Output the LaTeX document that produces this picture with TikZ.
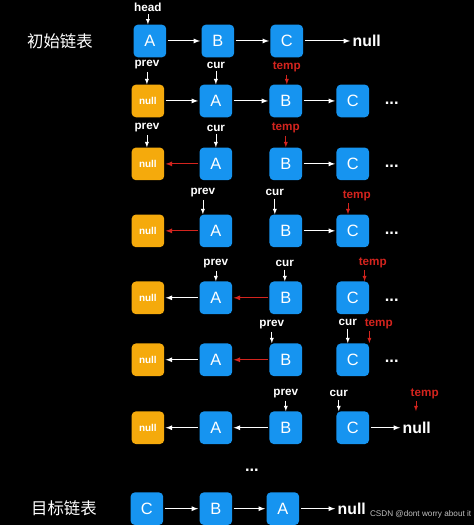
\documentclass[tikz,border=0pt]{standalone}
\usepackage{fontspec}
\setmainfont{Liberation Sans}
\newfontfamily\cjkfont{Noto Sans CJK SC}
\usepackage{tikz}
\usetikzlibrary{arrows}
\definecolor{boxblue}{RGB}{22,148,240}
\definecolor{boxorange}{RGB}{245,170,12}
\definecolor{ptrred}{RGB}{212,36,30}

\begin{document}
\begin{tikzpicture}[x=0.03cm, y=-0.03cm, >=latex,
elem/.style={rectangle,fill=boxblue,rounded corners=.7ex,minimum size=0.98cm,inner sep=0pt,text=white,font=\fontsize{14}{14}\selectfont},
nullelem/.style={elem,fill=boxorange,font=\bfseries\fontsize{8.5}{8.5}\selectfont},
endtxt/.style={text=white,inner sep=1pt,font=\bfseries\fontsize{13.5}{13.5}\selectfont},
title/.style={text=white,font=\cjkfont\fontsize{14}{14}\selectfont},
ptr/.style={text=white,inner sep=1pt,font=\bfseries\fontsize{10}{10}\selectfont},
tmp/.style={ptr,text=ptrred},
dots/.style={text=white,font=\bfseries\fontsize{14}{14}\selectfont},
link/.style={->,white,line width=0.9pt,shorten >=1pt,shorten <=1pt},
rlink/.style={link,ptrred},
plink/.style={->,white,line width=0.6pt,shorten <=1pt},
tlink/.style={plink,ptrred},
]
\fill[black] (0,0) rectangle (474,525);

%% initial list
\node[title] (init) at (60,41) {初始链表};
\node[elem] (a1) at (150,41) {A};
\node[elem] (b1) at (218,41) {B};
\node[elem] (c1) at (287,41) {C};
\node[endtxt] (e1) at (367,41) {null};
\node[ptr] (h1) at (148,7) {head};
\draw[plink] (h1) -- (h1 |- a1.north);
\draw[link] (a1) -- (b1);
\draw[link] (b1) -- (c1);
\draw[link] (c1) -- (e1);

%% step 1
\node[nullelem] (n2) at (148,101) {null};
\node[elem] (a2) at (216,101) {A};
\node[elem] (b2) at (286,101) {B};
\node[elem] (c2) at (353,101) {C};
\node[dots] (d2) at (392,103) {...};
\node[ptr] (p2) at (147,65) {prev};
\node[ptr] (q2) at (216,65) {cur};
\node[tmp] (t2) at (287,67) {temp};
\draw[plink] (p2) -- (p2 |- n2.north);
\draw[plink] (q2) -- (q2 |- a2.north);
\draw[tlink] (t2) -- (t2 |- b2.north);
\draw[link] (n2) -- (a2);
\draw[link] (a2) -- (b2);
\draw[link] (b2) -- (c2);

%% step 2
\node[nullelem] (n3) at (148,164) {null};
\node[elem] (a3) at (216,164) {A};
\node[elem] (b3) at (286,164) {B};
\node[elem] (c3) at (353,164) {C};
\node[dots] (d3) at (392,166) {...};
\node[ptr] (p3) at (147,128) {prev};
\node[ptr] (q3) at (216,128) {cur};
\node[tmp] (t3) at (286,128) {temp};
\draw[plink] (p3) -- (p3 |- n3.north);
\draw[plink] (q3) -- (q3 |- a3.north);
\draw[tlink] (t3) -- (t3 |- b3.north);
\draw[rlink] (a3) -- (n3);
\draw[link] (b3) -- (c3);

%% step 3
\node[nullelem] (n4) at (148,231) {null};
\node[elem] (a4) at (216,231) {A};
\node[elem] (b4) at (286,231) {B};
\node[elem] (c4) at (353,231) {C};
\node[dots] (d4) at (392,233) {...};
\node[ptr] (p4) at (203,193) {prev};
\node[ptr] (q4) at (275,193) {cur};
\node[tmp] (t4) at (357,196) {temp};
\draw[plink] (p4) -- (p4 |- a4.north);
\draw[plink] (q4) -- (q4 |- b4.north);
\draw[tlink] ([xshift=-7.5pt]t4.south) -- ([xshift=-7.5pt]t4.south |- c4.north);
\draw[rlink] (a4) -- (n4);
\draw[link] (b4) -- (c4);

%% step 4
\node[nullelem] (n5) at (148,298) {null};
\node[elem] (a5) at (216,298) {A};
\node[elem] (b5) at (286,298) {B};
\node[elem] (c5) at (353,298) {C};
\node[dots] (d5) at (392,300) {...};
\node[ptr] (p5) at (216,264) {prev};
\node[ptr] (q5) at (285,264) {cur};
\node[tmp] (t5) at (373,263) {temp};
\draw[plink] (p5) -- (p5 |- a5.north);
\draw[plink] (q5) -- (q5 |- b5.north);
\draw[tlink] ([xshift=-7pt]t5.south) -- ([xshift=-7pt]t5.south |- c5.north);
\draw[link] (a5) -- (n5);
\draw[rlink] (b5) -- (a5);

%% step 5
\node[nullelem] (n6) at (148,360) {null};
\node[elem] (a6) at (216,360) {A};
\node[elem] (b6) at (286,360) {B};
\node[elem] (c6) at (353,360) {C};
\node[dots] (d6) at (392,362) {...};
\node[ptr] (p6) at (272,325) {prev};
\node[ptr] (q6) at (348,323) {cur};
\node[tmp] (t6) at (379,324) {temp};
\draw[plink] (p6) -- (p6 |- b6.north);
\draw[plink] (q6) -- (q6 |- c6.north);
\draw[tlink] ([xshift=-8pt]t6.south) -- ([xshift=-8pt]t6.south |- c6.north);
\draw[link] (a6) -- (n6);
\draw[rlink] (b6) -- (a6);

%% step 6
\node[nullelem] (n7) at (148,428) {null};
\node[elem] (a7) at (216,428) {A};
\node[elem] (b7) at (286,428) {B};
\node[elem] (c7) at (353,428) {C};
\node[endtxt] (e7) at (417,428) {null};
\node[ptr] (p7) at (286,394) {prev};
\node[ptr] (q7) at (339,394) {cur};
\node[tmp] (t7) at (425,394) {temp};
\draw[plink] (p7) -- (p7 |- b7.north);
\draw[plink] (q7) -- (q7 |- c7.north);
\draw[tlink] ([xshift=-7.5pt]t7.south) -- ([xshift=-7.5pt]t7.south |- c7.north);
\draw[link] (a7) -- (n7);
\draw[link] (b7) -- (a7);
\draw[link] (c7) -- (e7);

\node[dots] (d8) at (252,471) {...};

%% target list
\node[title] (goal) at (64,509) {目标链表};
\node[elem] (c9) at (147,509) {C};
\node[elem] (b9) at (216,509) {B};
\node[elem] (a9) at (283,509) {A};
\node[endtxt] (e9) at (352,509) {null};
\draw[link] (c9) -- (b9);
\draw[link] (b9) -- (a9);
\draw[link] (a9) -- (e9);
\node[anchor=west,inner sep=0pt,text=white,opacity=.75,font=\fontsize{7}{7}\selectfont] (mark) at (370,515) {CSDN @dont worry about it};
\end{tikzpicture}
\end{document}
